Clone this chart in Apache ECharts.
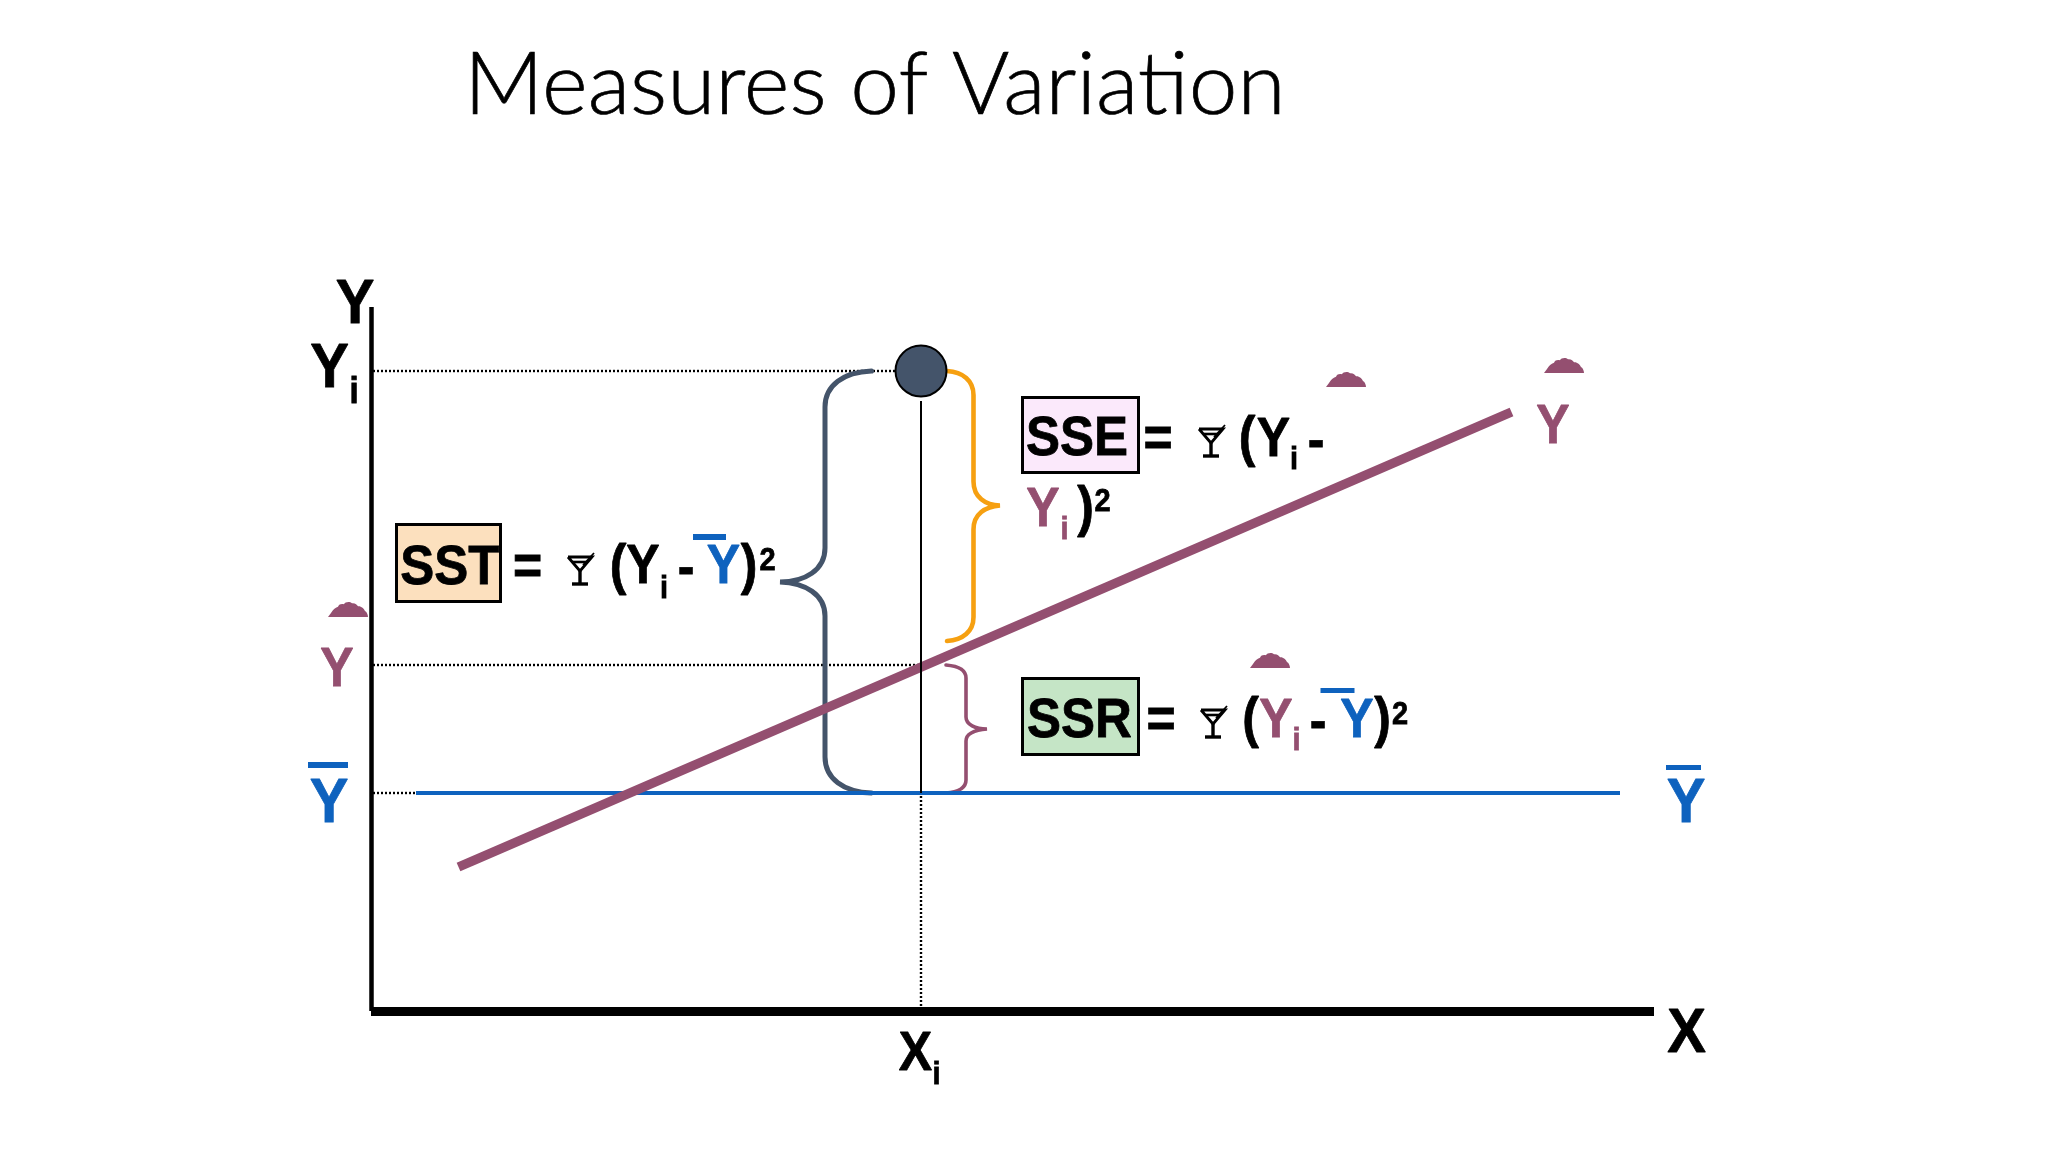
<!DOCTYPE html>
<html><head><meta charset="utf-8">
<style>html,body{margin:0;padding:0;background:#fff}#c{width:2048px;height:1152px}</style>
<script src="https://cdn.jsdelivr.net/npm/echarts@6/dist/echarts.min.js"></script>
</head><body><div id="c"></div>
<script>
const titleText = 'Measures of Variation';
const observedX = [550];
const observedY = [640];
const fittedY = [346];
const meanY = [218];
const regressionX = [87.5, 1140.5];
const regressionY = [144, 599];
const meanLineX = [45, 1249];

const MAROON = '#944F70', BLUE = '#0E62BE', SLATE = '#44546A', ORANGE = '#F6A011';
const FONT = '"Liberation Sans", Arial, sans-serif';
const AX = 371, AY = 1011;

function pairs(xs, ys) { return xs.map((x, i) => [x, ys[i]]); }
function dottedLine(name, xs, ys) {
  return { name, type: 'line', data: pairs(xs, ys), symbol: 'none', z: 2, silent: true,
    lineStyle: { color: '#000', width: 2.4, type: [2, 2] } };
}

const hatPath = 'M0 15L3 11C5 8 7 6 10 5C11 2 14 2 16 2.5C17 0 22 -0.5 24 1.5C27 1 29 3 30 4.5C33 4 36 7 37 9C39 10 40 13 40 15Z';

function renderAll(params, api) {
  const P = (px, py) => api.coord([px - AX, AY - py]);
  const kids = [];
  const text = (t, cx, cy, size, fill) => {
    const p = P(cx, cy + 3);
    kids.push({ type: 'text', z2: 20, originX: p[0], originY: p[1], scaleY: 1.1,
      style: { text: t, x: p[0], y: p[1], fill: fill || '#000', stroke: fill || '#000', lineWidth: 0.7,
      font: `bold ${size}px ${FONT}`, textAlign: 'center', textVerticalAlign: 'middle' } });
  };
  const rect = (x0, y0, x1, y1, fill, stroke, lw) => {
    const a = P(x0, y0), b = P(x1, y1);
    kids.push({ type: 'rect', z2: 10, shape: { x: a[0], y: a[1], width: b[0] - a[0], height: b[1] - a[1] },
      style: { fill, stroke: stroke || null, lineWidth: lw || 0 } });
  };
  const hat = (x, y) => {
    const p = P(x, y);
    kids.push({ type: 'group', x: p[0], y: p[1], children: [
      { type: 'path', shape: { pathData: hatPath, x: 0, y: 0, width: 40, height: 15, layout: 'cover' }, style: { fill: MAROON } }] });
  };
  const martini = (x, y) => {
    const p = P(x, y);
    const ln = (pts, w) => ({ type: 'polyline', shape: { points: pts }, style: { stroke: '#000', fill: null, lineWidth: w } });
    kids.push({ type: 'group', x: p[0], y: p[1], z2: 20, children: [
      ln([[2, 5], [26, 5], [14, 19], [2, 5]], 2.8),
      ln([[7, 10], [21, 10]], 2.6),
      ln([[14, 19], [14, 31]], 3.4),
      ln([[6, 32], [22, 32]], 3.4),
      ln([[17, 13], [28, 1]], 1.8)
    ] });
  };
  const brace = (xs, ys, xm, xt, ytip, r1, r2, color, lw) => {
    const [yt, yb] = ys;
    const pt = (x, y) => P(x, y).join(' ');
    const d = `M${pt(xs, yt)}C${pt(xs - (xs - xm) * .6, yt + 1)} ${pt(xm, yt + r1 * .4)} ${pt(xm, yt + r1)}` +
      `L${pt(xm, ytip - r2)}C${pt(xm, ytip - r2 * .35)} ${pt(xm + (xt - xm) * .45, ytip)} ${pt(xt, ytip)}` +
      `C${pt(xm + (xt - xm) * .45, ytip + 1)} ${pt(xm, ytip + r2 * .35)} ${pt(xm, ytip + r2)}` +
      `L${pt(xm, yb - r1)}C${pt(xm, yb - r1 * .4)} ${pt(xs - (xs - xm) * .6, yb - 1)} ${pt(xs, yb)}`;
    kids.push({ type: 'path', z2: 5, shape: { pathData: d }, style: { fill: null, stroke: color, lineWidth: lw, lineCap: 'round' } });
  };

  brace(871.5, [371, 793], 825, 780, 582, 36, 34, SLATE, 5);
  brace(947, [371, 641], 973.5, 1000, 505.5, 24, 24, ORANGE, 4.6);
  brace(946, [665, 793], 966, 987, 729, 13, 12, MAROON, 3.6);

  rect(396.5, 524.5, 500.5, 601.5, '#FCE0BE', '#000', 3);
  rect(1022.5, 397.5, 1138.5, 472.5, '#FBE9FB', '#000', 3);
  rect(1022.5, 678.5, 1138.5, 754.5, '#C5E5C6', '#000', 3);

  // axis captions
  text('Y', 355, 302, 58);
  text('Y', 329.5, 366, 58); text('i', 354, 390, 33);
  text('X', 915.5, 1051.5, 50); text('i', 936.5, 1072.5, 29);
  text('X', 1686.5, 1031.5, 58);
  text('Y', 329, 801, 58, BLUE); rect(308, 762, 348, 768, BLUE);
  text('Y', 1686, 801, 58, BLUE); rect(1666, 765, 1701, 770, BLUE);
  text('Y', 337, 667.5, 50, MAROON); hat(328, 602);
  text('Y', 1553, 424.5, 50, MAROON); hat(1544, 358);

  // SST
  text('SST', 449.75, 566, 51); text('=', 527.5, 566, 50); martini(566, 552);
  text('(', 618, 565, 50); text('Y', 643, 565, 50); text('i', 664, 586, 29); text('-', 686, 567, 50);
  rect(693, 534, 726, 540, BLUE); text('Y', 723.5, 565, 50, BLUE);
  text(')', 749, 565, 50); text('2', 767.5, 558.5, 29);

  // SSE
  text('SSE', 1077, 437, 51); text('=', 1158, 437.5, 50); martini(1197, 424);
  text('(', 1247, 437, 50); text('Y', 1273.5, 437.5, 50); text('i', 1294, 457.5, 29); text('-', 1316, 440, 50);
  hat(1326, 372);
  text('Y', 1043, 507.5, 50, MAROON); text('i', 1064.5, 527.5, 29, MAROON);
  text(')', 1085.5, 507, 50); text('2', 1102.5, 499.5, 29);

  // SSR
  text('SSR', 1079.5, 718.5, 51); text('=', 1161, 718.5, 50); martini(1199, 705);
  text('(', 1250.5, 718, 50); text('Y', 1276, 719, 50, MAROON); text('i', 1296.5, 738.5, 29, MAROON);
  text('-', 1318, 721, 50); hat(1250, 653);
  rect(1320.5, 688, 1354.5, 693, BLUE); text('Y', 1357, 719, 50, BLUE);
  text(')', 1382.5, 718, 50); text('2', 1400, 712.5, 29);

  return { type: 'group', children: kids };
}

const chart = echarts.init(document.getElementById('c'), null, { renderer: 'canvas', width: 2048, height: 1152 });
chart.setOption({
  backgroundColor: '#fff',
  animation: false,
  title: { text: titleText, left: 459, top: 37,
    textStyle: { fontFamily: 'Lato', fontWeight: 300, fontSize: 87.5, color: '#000', textBorderColor: '#000', textBorderWidth: 0.7 } },
  grid: { left: AX, top: 307, width: 1283, height: 704, containLabel: false },
  xAxis: { type: 'value', min: 0, max: 1283, splitLine: { show: false }, axisTick: { show: false }, axisLabel: { show: false },
    axisLine: { show: true, onZero: false, lineStyle: { color: '#000', width: 9, cap: 'butt' } } },
  yAxis: { type: 'value', min: 0, max: 704, splitLine: { show: false }, axisTick: { show: false }, axisLabel: { show: false },
    axisLine: { show: true, onZero: false, lineStyle: { color: '#000', width: 4.5, cap: 'butt' } } },
  series: [
    dottedLine('Yi guide', [2, observedX[0] - 26], [observedY[0], observedY[0]]),
    dottedLine('Fitted guide', [2, observedX[0]], [fittedY[0], fittedY[0]]),
    dottedLine('Mean guide', [2, meanLineX[0]], [meanY[0], meanY[0]]),
    dottedLine('Xi guide', [observedX[0], observedX[0]], [5, meanY[0]]),
    { name: 'Annotations', type: 'custom', coordinateSystem: 'cartesian2d', data: [[0, 0]], renderItem: renderAll, z: 3, clip: false, silent: true },
    { name: 'Mean', type: 'line', data: pairs(meanLineX, [meanY[0], meanY[0]]), symbol: 'none', z: 4, silent: true,
      lineStyle: { color: BLUE, width: 4 } },
    { name: 'Regression', type: 'line', data: pairs(regressionX, regressionY), symbol: 'none', z: 5, silent: true,
      lineStyle: { color: MAROON, width: 9.5, cap: 'butt' } },
    { name: 'Xi stem', type: 'line', data: [[observedX[0], meanY[0]], [observedX[0], observedY[0] - 30]], symbol: 'none', z: 6, silent: true,
      lineStyle: { color: '#000', width: 2 } },
    { name: 'Observation', type: 'scatter', data: pairs(observedX, observedY), symbol: 'circle', symbolSize: 51, z: 7, silent: true,
      itemStyle: { color: SLATE, borderColor: '#000', borderWidth: 2, opacity: 1 } }
  ]
});
</script></body></html>
